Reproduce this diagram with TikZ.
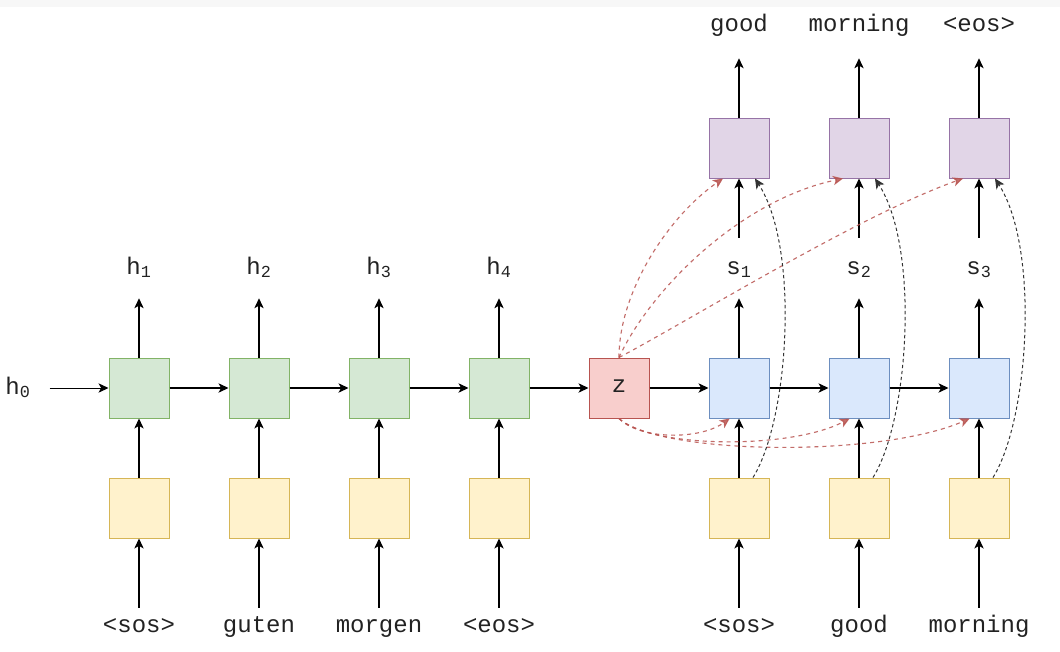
\documentclass[tikz,border=0pt]{standalone}
\usepackage{fontspec}
\setmonofont{Liberation Mono}
\usetikzlibrary{arrows.meta}
\definecolor{encF}{HTML}{D5E8D4}\definecolor{encD}{HTML}{82B366}
\definecolor{embF}{HTML}{FFF2CC}\definecolor{embD}{HTML}{D6B656}
\definecolor{decF}{HTML}{DAE8FC}\definecolor{decD}{HTML}{6C8EBF}
\definecolor{ctxF}{HTML}{F8CECC}\definecolor{ctxD}{HTML}{B85450}
\definecolor{outF}{HTML}{E1D5E7}\definecolor{outD}{HTML}{9673A6}
\definecolor{txt}{HTML}{222222}
\begin{document}
\begin{tikzpicture}[x=0.75pt,y=-0.75pt,
  box/.style={draw, minimum size=45pt, inner sep=0pt, line width=0.75pt},
  enc/.style={box, fill=encF, draw=encD},
  emb/.style={box, fill=embF, draw=embD},
  dec/.style={box, fill=decF, draw=decD},
  ctx/.style={box, fill=ctxF, draw=ctxD},
  outb/.style={box, fill=outF, draw=outD},
  lbl/.style={text height=13.5pt, text depth=4.5pt, inner sep=0pt, text=txt,
    font=\ttfamily\fontsize{18}{20}\selectfont},
  arr/.style={-{Stealth[length=7.5pt,width=7pt,inset=2pt]}, line width=0.85pt},
  redarr/.style={-{Stealth[length=7.5pt,width=7pt,inset=2pt]}, line width=0.85pt,
    draw=ctxD, dash pattern=on 3pt off 3pt, opacity=0.85},
  blkarr/.style={-{Stealth[length=7.5pt,width=7pt,inset=2pt]}, line width=0.75pt,
    dash pattern=on 2.5pt off 2pt, draw=black!80}
]
\useasboundingbox (0,0) rectangle (1060,651);
\fill[black!3] (0,0) rectangle (1060,7);

% encoder
\foreach \i/\x/\w in {1/139/{<sos>},2/259/guten,3/379/morgen,4/499/{<eos>}}{
  \node[enc] (e\i) at (\x,388) {};
  \node[emb] (y\i) at (\x,508) {};
  \node[lbl] (in\i) at (\x,626) {\w};
  \node[lbl] (h\i) at (\x,268) {h\textsubscript{\i}};
  \draw[arr, shorten <=4.5pt] (in\i) -- (y\i);
  \draw[arr] (y\i) -- (e\i);
  \draw[arr, shorten >=13.5pt] (e\i) -- (h\i);
}
\node[lbl] (h0) at (18,388) {h\textsubscript{0}};
\draw[arr, line width=0.7pt, shorten <=14pt] (h0) -- (e1);
\draw[arr] (e1) -- (e2);
\draw[arr] (e2) -- (e3);
\draw[arr] (e3) -- (e4);

\node[ctx] (z) at (619,388) {};
\node[lbl] (zl) at (619,386) {z};
\draw[arr] (e4) -- (z);

% decoder
\foreach \i/\x/\w/\o in {1/739/{<sos>}/good,2/859/good/morning,3/979/morning/{<eos>}}{
  \node[dec] (d\i) at (\x,388) {};
  \node[emb] (x\i) at (\x,508) {};
  \node[outb] (p\i) at (\x,148) {};
  \node[lbl] (din\i) at (\x,626) {\w};
  \node[lbl] (s\i) at (\x,268) {s\textsubscript{\i}};
  \node[lbl] (o\i) at (\x,25) {\o};
  \draw[arr, shorten <=4.5pt] (din\i) -- (x\i);
  \draw[arr] (x\i) -- (d\i);
  \draw[arr, shorten >=13.5pt] (d\i) -- (s\i);
  \draw[arr, shorten <=13.5pt] (s\i) -- (p\i);
  \draw[arr, shorten >=15.75pt] (p\i) -- (o\i);
}
\draw[arr] (z) -- (d1);
\draw[arr] (d1) -- (d2);
\draw[arr] (d2) -- (d3);

% context z to outputs (top)
\draw[redarr] (z.north) .. controls (619,290) and (670,215) .. ([xshift=-12pt]p1.south);
\draw[redarr] (z.north) .. controls (650,290) and (740,200) .. ([xshift=-12pt]p2.south);
\draw[redarr] (z.north) .. controls (690,320) and (860,215) .. ([xshift=-12pt]p3.south);
% context z to decoder (bottom)
\draw[redarr] (z.south) .. controls (640,440) and (700,440) .. ([xshift=-7pt]d1.south);
\draw[redarr] (z.south) .. controls (650,448) and (790,450) .. ([xshift=-7pt]d2.south);
\draw[redarr] (z.south) .. controls (660,455) and (880,458) .. ([xshift=-7pt]d3.south);

% embedding skip to output
\foreach \i in {1,2,3}{
  \draw[blkarr] ([xshift=10.5pt]x\i.north) .. controls +(36,-58) and +(45,70) .. ([xshift=12pt]p\i.south);
}
\end{tikzpicture}
\end{document}
